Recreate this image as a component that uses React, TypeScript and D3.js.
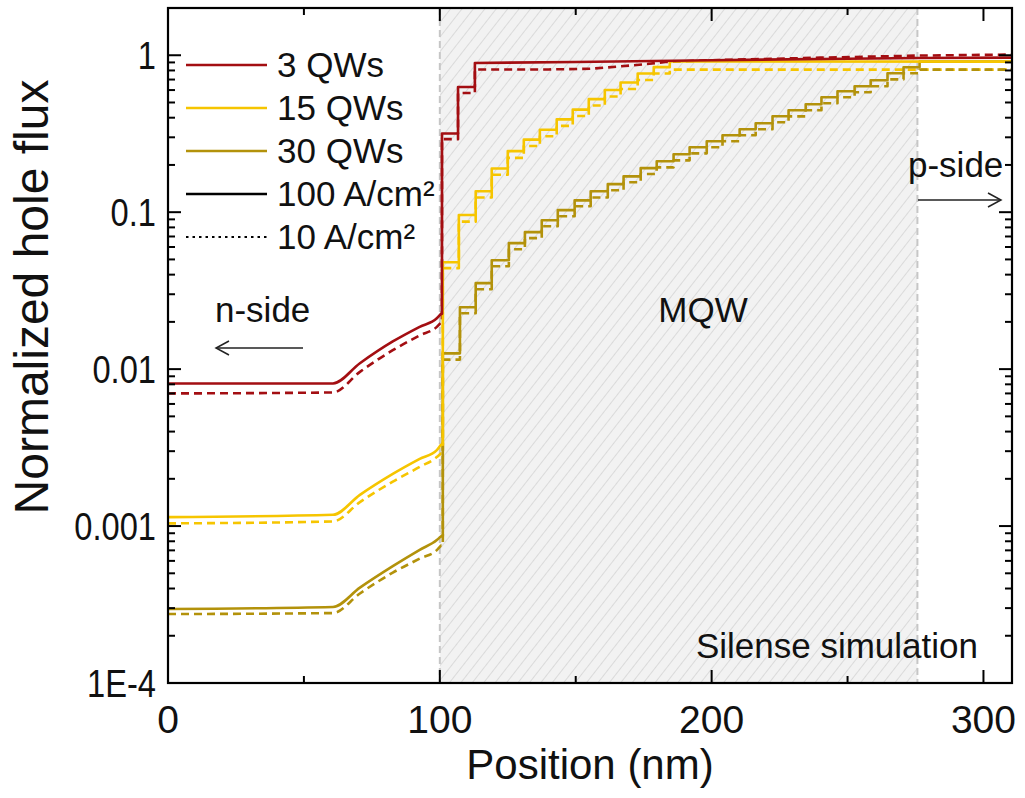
import React from 'react';
import * as d3 from 'd3';

const W = 1025;
const H = 798;

// Axis setup
const xDomain = [0, 310.5];
const yDomain = [1e-4, 2];
const xTicks = [0, 100, 200, 300];
const xMinorTicks = [50, 150, 250];
const yTicks = [1e-4, 1e-3, 1e-2, 1e-1, 1];
const yTickLabels = ['1E-4', '0.001', '0.01', '0.1', '1'];

// MQW region (nm)
const mqwStart = 100;
const mqwEnd = 275.7;

// Positions (nm) of the smooth n-side part shared by all curves
const leftX = [0, 60.7, 70.6, 82.7, 92.6, 98.9, 100.4];

// 3 QWs
const qw3Wells = [100.8, 106.7, 112.9];
const qw3HighLeft = [0.0081, 0.0081, 0.0109, 0.015, 0.0186, 0.0211, 0.0225];
const qw3HighSteps = [0.317, 0.628, 0.893];
const qw3HighTail = [[150, 0.905], [200, 0.93], [250, 0.95], [276, 0.96], [310.5, 0.965]];
const qw3LowLeft = [0.007, 0.0071, 0.0096, 0.0132, 0.0164, 0.0186, 0.0198];
const qw3LowSteps = [0.292, 0.575, 0.811];
const qw3LowTail = [[140, 0.812], [155, 0.82], [165, 0.845], [175, 0.875], [183, 0.905], [200, 0.93], [240, 0.965], [276, 0.995], [310.5, 1.01]];

// 15 QWs
const qw15Wells = [101.1, 107.0, 113.2, 119.1, 125.0, 130.9, 136.8, 143.0, 148.9, 154.8, 160.7, 166.5, 172.8, 178.7, 184.6];
const qw15HighLeft = [0.00114, 0.00118, 0.00158, 0.00215, 0.00268, 0.00305, 0.0033];
const qw15HighSteps = [0.048, 0.096, 0.136, 0.19, 0.245, 0.29, 0.335, 0.39, 0.45, 0.525, 0.6, 0.67, 0.765, 0.84, 0.912];
const qw15HighTail = [[310.5, 0.91]];
const qw15LowLeft = [0.00104, 0.00107, 0.00142, 0.00192, 0.00238, 0.00275, 0.0029];
const qw15LowSteps = [0.044, 0.087, 0.124, 0.173, 0.222, 0.264, 0.305, 0.355, 0.41, 0.478, 0.546, 0.61, 0.696, 0.765, 0.81];
const qw15LowTail = [[310.5, 0.81]];

// 30 QWs
const qw30Wells = [101.1, 107.4, 113.2, 119.1, 125.4, 131.3, 137.5, 143.4, 149.6, 155.5, 161.8, 167.6, 173.9, 179.8, 186.0, 191.9, 198.2, 204.0, 210.3, 216.2, 222.4, 228.3, 234.6, 240.4, 246.3, 252.6, 258.5, 264.7, 270.6, 276.5];
const qw30HighLeft = [0.000296, 0.000305, 0.000405, 0.000555, 0.000705, 0.000815, 0.00086];
const qw30HighSteps = [0.0126, 0.0248, 0.0353, 0.0494, 0.0635, 0.0746, 0.0889, 0.103, 0.119, 0.136, 0.151, 0.169, 0.191, 0.211, 0.234, 0.259, 0.283, 0.309, 0.338, 0.369, 0.409, 0.446, 0.487, 0.54, 0.59, 0.635, 0.693, 0.767, 0.839, 0.912];
const qw30HighTail = [[310.5, 0.91]];
const qw30LowLeft = [0.000275, 0.000279, 0.000372, 0.000505, 0.00062, 0.000703, 0.00075];
const qw30LowSteps = [0.0115, 0.0227, 0.0323, 0.0452, 0.0581, 0.0683, 0.0813, 0.0942, 0.109, 0.124, 0.138, 0.155, 0.175, 0.193, 0.214, 0.237, 0.259, 0.283, 0.309, 0.338, 0.374, 0.408, 0.446, 0.494, 0.54, 0.581, 0.634, 0.702, 0.768, 0.81];
const qw30LowTail = [[310.5, 0.81]];

const colors = { qw3: '#A30E12', qw15: '#F6C500', qw30: '#B3920B' };

const legendLabels = ['3 QWs', '15 QWs', '30 QWs', '100 A/cm²', '10 A/cm²'];

const FONT = 'Liberation Sans, Arial, sans-serif';

const plot = { left: 168, right: 1012, top: 8, bottom: 683 };

const xs = d3.scaleLinear().domain(xDomain).range([plot.left, plot.right]);
const ys = d3.scaleLog().domain(yDomain).range([plot.bottom, plot.top]);

function buildPath(leftVals: number[], wells: number[], steps: number[], tail: number[][]) {
  const smooth = d3
    .line<number[]>()
    .x((d) => xs(d[0]))
    .y((d) => ys(d[1]))
    .curve(d3.curveMonotoneX);
  const straight = d3
    .line<number[]>()
    .x((d) => xs(d[0]))
    .y((d) => ys(d[1]));
  const left = leftX.map((x, i) => [x, leftVals[i]]);
  const stair: number[][] = [];
  let prev = leftVals[leftVals.length - 1];
  wells.forEach((w, i) => {
    stair.push([w, prev]);
    stair.push([w, steps[i]]);
    prev = steps[i];
  });
  tail.forEach((p) => stair.push(p));
  return (smooth(left) || '') + (straight(stair) || '').replace(/^M/, 'L');
}

const series = [
  { color: colors.qw15, d: buildPath(qw15LowLeft, qw15Wells, qw15LowSteps, qw15LowTail), dashed: true },
  { color: colors.qw30, d: buildPath(qw30LowLeft, qw30Wells, qw30LowSteps, qw30LowTail), dashed: true },
  { color: colors.qw3, d: buildPath(qw3LowLeft, qw3Wells, qw3LowSteps, qw3LowTail), dashed: true },
  { color: colors.qw30, d: buildPath(qw30HighLeft, qw30Wells, qw30HighSteps, qw30HighTail), dashed: false },
  { color: colors.qw15, d: buildPath(qw15HighLeft, qw15Wells, qw15HighSteps, qw15HighTail), dashed: false },
  { color: colors.qw3, d: buildPath(qw3HighLeft, qw3Wells, qw3HighSteps, qw3HighTail), dashed: false },
];

const yMinor: number[] = [];
for (let e = -4; e <= 0; e++) {
  for (let m = 2; m <= 9; m++) {
    const v = m * Math.pow(10, e);
    if (v < yDomain[1]) yMinor.push(v);
  }
}

export default function App() {
  const majorLen = 13;
  const minorLen = 7;
  const legendColors = [colors.qw3, colors.qw15, colors.qw30, '#000', '#000'];
  return (
    <svg
      width={W}
      height={H}
      viewBox={`0 0 ${W} ${H}`}
      style={{ position: 'absolute', left: 0, top: 0, background: '#fff' }}
      fontFamily={FONT}
    >
      <defs>
        <pattern id="hatch" patternUnits="userSpaceOnUse" width="9" height="9" patternTransform="rotate(38)">
          <rect width="9" height="9" fill="#f2f2f2" />
          <line x1="0" y1="0" x2="0" y2="9" stroke="#dadada" strokeWidth="2" />
        </pattern>
        <clipPath id="plotClip">
          <rect x={plot.left} y={plot.top} width={plot.right - plot.left} height={plot.bottom - plot.top} />
        </clipPath>
      </defs>
      <rect width={W} height={H} fill="#fff" />

      {/* MQW region */}
      <rect
        x={xs(mqwStart)}
        y={plot.top}
        width={xs(mqwEnd) - xs(mqwStart)}
        height={plot.bottom - plot.top}
        fill="url(#hatch)"
      />
      {[mqwStart, mqwEnd].map((v) => (
        <line
          key={v}
          x1={xs(v)}
          x2={xs(v)}
          y1={plot.top}
          y2={plot.bottom}
          stroke="#c6c6c6"
          strokeWidth={2}
          strokeDasharray="7 4"
        />
      ))}

      {/* Curves */}
      <g clipPath="url(#plotClip)" fill="none" strokeLinejoin="round">
        {series.map((s, i) => (
          <path
            key={i}
            d={s.d}
            stroke={s.color}
            strokeWidth={2.6}
            strokeDasharray={s.dashed ? '8 5' : undefined}
          />
        ))}
      </g>

      {/* Annotations */}
      <g fill="#111" fontSize={35}>
        <text x={215} y={322}>n-side</text>
        <text x={908} y={177}>p-side</text>
        <text x={703} y={322} textAnchor="middle">MQW</text>
        <text x={978} y={658} textAnchor="end">Silense simulation</text>
      </g>
      <g stroke="#222" strokeWidth={1.5} fill="none">
        <line x1={216} y1={348} x2={303} y2={348} />
        <polyline points="229,341 216,348 229,355" />
        <line x1={918} y1={200} x2={1001} y2={200} />
        <polyline points="988,193 1001,200 988,207" />
      </g>

      {/* Legend */}
      {legendLabels.map((label, i) => {
        const y = 65 + i * 43;
        return (
          <g key={label}>
            <line
              x1={186}
              x2={267}
              y1={y}
              y2={y}
              stroke={legendColors[i]}
              strokeWidth={i === 4 ? 2.2 : 2.6}
              strokeDasharray={i === 4 ? '2.5 4' : undefined}
            />
            <text x={277} y={y + 12} fontSize={35} fill="#111">
              {label}
            </text>
          </g>
        );
      })}

      {/* Frame and ticks */}
      <g stroke="#000" strokeWidth={2}>
        {xTicks.map((t) => (
          <g key={`xt${t}`}>
            <line x1={xs(t)} x2={xs(t)} y1={plot.bottom} y2={plot.bottom - majorLen} />
            <line x1={xs(t)} x2={xs(t)} y1={plot.top} y2={plot.top + majorLen} />
          </g>
        ))}
        {xMinorTicks.map((t) => (
          <g key={`xm${t}`}>
            <line x1={xs(t)} x2={xs(t)} y1={plot.bottom} y2={plot.bottom - minorLen} />
            <line x1={xs(t)} x2={xs(t)} y1={plot.top} y2={plot.top + minorLen} />
          </g>
        ))}
        {yTicks.map((t) => (
          <g key={`yt${t}`}>
            <line x1={plot.left} x2={plot.left + majorLen} y1={ys(t)} y2={ys(t)} />
            <line x1={plot.right} x2={plot.right - majorLen} y1={ys(t)} y2={ys(t)} />
          </g>
        ))}
        {yMinor.map((t) => (
          <g key={`ym${t}`}>
            <line x1={plot.left} x2={plot.left + minorLen} y1={ys(t)} y2={ys(t)} />
            <line x1={plot.right} x2={plot.right - minorLen} y1={ys(t)} y2={ys(t)} />
          </g>
        ))}
      </g>
      <rect
        x={plot.left}
        y={plot.top}
        width={plot.right - plot.left}
        height={plot.bottom - plot.top}
        fill="none"
        stroke="#000"
        strokeWidth={2.2}
      />

      {/* Tick labels */}
      <g fill="#111" fontSize={39} textAnchor="middle">
        {xTicks.map((t) => (
          <text key={`xl${t}`} x={xs(t)} y={733}>
            {t}
          </text>
        ))}
      </g>
      <g fill="#111" fontSize={38} textAnchor="end">
        {yTicks.map((t, i) => (
          <text key={`yl${t}`} transform={`translate(156, ${ys(t) + 13.5}) scale(0.86, 1)`}>
            {yTickLabels[i]}
          </text>
        ))}
      </g>

      {/* Axis titles */}
      <text x={(plot.left + plot.right) / 2} y={779} fontSize={42} textAnchor="middle" fill="#111">
        Position (nm)
      </text>
      <text
        transform={`translate(48, 297) rotate(-90)`}
        fontSize={48}
        textAnchor="middle"
        fill="#111"
      >
        Normalized hole flux
      </text>
    </svg>
  );
}
